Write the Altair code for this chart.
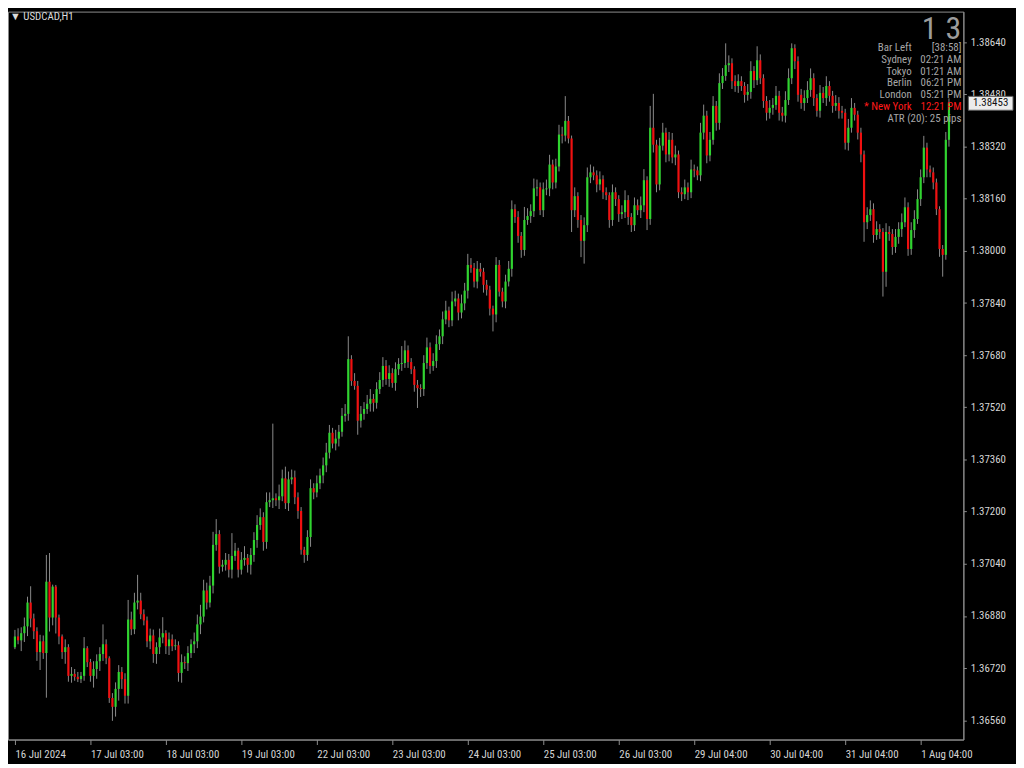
import json
import altair as alt
import pandas as pd

# ---------------- data ----------------
BASE = 1.36  # prices below are stored as pips above 1.36000
first_open_pips = 78.4
close_pips = [
    81.7, 80.5, 82.7, 84.8, 92.1, 87.2, 83.3, 76.9, 80.2, 76.6,
    98.5, 87.5, 97.0, 87.5, 81.7, 76.9, 78.4, 69.6, 70.2, 69.3,
    68.6, 69.6, 78.1, 73.8, 69.6, 71.7, 74.1, 76.3, 79.3, 75.0,
    62.8, 60.1, 65.6, 70.8, 68.6, 63.5, 86.9, 83.9, 92.1, 92.7,
    88.5, 86.6, 80.2, 82.0, 76.3, 78.4, 81.4, 82.7, 78.7, 80.8,
    78.7, 79.0, 70.5, 73.8, 73.5, 76.6, 79.3, 80.2, 85.4, 87.8,
    95.8, 92.1, 97.3, 109.8, 113.1, 103.1, 103.7, 105.2, 102.2, 106.4,
    108.0, 102.2, 105.2, 105.8, 103.7, 106.7, 111.3, 115.9, 118.3, 110.7,
    122.9, 123.5, 124.1, 123.5, 124.7, 130.2, 122.6, 129.9, 130.5, 124.4,
    120.2, 108.3, 106.7, 112.2, 127.2, 125.9, 128.7, 131.1, 134.2, 138.1,
    144.2, 140.9, 142.4, 144.5, 149.4, 150.0, 166.8, 160.1, 158.6, 147.9,
    150.0, 151.5, 153.1, 154.6, 153.4, 157.6, 160.4, 164.7, 160.7, 162.5,
    159.5, 163.7, 165.3, 165.6, 169.5, 165.9, 163.7, 158.9, 157.9, 157.6,
    165.6, 170.4, 164.7, 166.2, 171.4, 173.8, 179.0, 181.7, 178.7, 184.5,
    185.4, 181.1, 183.9, 187.8, 195.7, 194.8, 190.6, 194.5, 193.6, 189.6,
    188.1, 182.3, 180.5, 195.7, 187.5, 184.5, 190.6, 194.5, 212.8, 210.4,
    204.6, 200.3, 209.5, 210.7, 212.2, 219.2, 219.5, 212.5, 218.9, 219.2,
    226.5, 221.0, 225.9, 235.7, 235.4, 239.9, 234.5, 212.5, 216.8, 209.5,
    203.1, 207.9, 222.6, 224.1, 223.2, 220.4, 222.0, 218.0, 217.1, 209.5,
    218.0, 215.9, 211.3, 211.9, 215.6, 210.4, 207.9, 214.0, 212.5, 214.0,
    221.7, 209.8, 237.8, 232.6, 220.4, 232.3, 236.3, 229.6, 234.1, 228.7,
    229.6, 218.0, 217.4, 219.5, 218.0, 225.0, 224.7, 223.2, 236.3, 241.5,
    229.3, 234.1, 244.5, 239.3, 251.5, 253.7, 257.0, 257.6, 252.1, 250.6,
    252.1, 250.6, 247.9, 248.8, 255.2, 252.4, 258.5, 253.0, 246.0, 242.4,
    243.9, 244.8, 247.6, 242.4, 241.5, 246.3, 253.0, 262.2, 258.2, 247.9,
    245.4, 246.9, 249.4, 253.0, 246.9, 243.0, 248.5, 246.9, 250.6, 247.6,
    244.5, 245.4, 243.0, 242.4, 233.2, 237.8, 243.9, 241.8, 236.3, 229.6,
    208.8, 211.0, 212.8, 204.9, 206.7, 205.8, 193.6, 205.8, 205.2, 201.2,
    204.3, 206.7, 208.8, 213.4, 200.6, 206.4, 209.8, 215.9, 222.6, 231.7,
    225.0, 224.1, 221.0, 212.8, 200.6, 198.8, 234.1, 245.3,
]
upper_wick_pips = [
    2.0, 2.5, 1.8, 2.7, 1.8, 5.0, 1.5, 1.2, 2.0, 1.8,
    8.2, 8.8, 0.6, 0.5, 0.9, 0.6, 2.4, 0.9, 2.1, 1.5,
    1.5, 1.2, 3.4, 0.6, 1.0, 2.4, 2.1, 2.1, 6.1, 1.5,
    0.6, 1.5, 2.0, 2.1, 1.5, 1.8, 6.0, 2.4, 3.0, 7.9,
    2.4, 1.5, 1.2, 2.1, 1.8, 1.5, 2.7, 4.9, 0.9, 2.1,
    1.5, 1.8, 1.2, 2.4, 1.8, 2.1, 1.5, 2.7, 3.0, 3.6,
    3.3, 2.4, 3.0, 4.0, 4.6, 1.2, 1.5, 2.1, 1.8, 7.0,
    2.4, 0.9, 2.4, 3.6, 1.2, 2.1, 2.4, 3.0, 2.7, 1.5,
    3.0, 2.4, 22.9, 1.5, 3.6, 2.7, 3.6, 2.4, 2.4, 2.1,
    1.5, 1.2, 0.9, 2.1, 2.7, 1.5, 2.4, 2.1, 2.4, 3.0,
    2.4, 1.5, 2.7, 2.1, 2.4, 3.0, 7.0, 1.2, 2.4, 1.5,
    2.4, 2.1, 2.7, 3.0, 1.5, 2.1, 2.4, 2.7, 1.8, 2.4,
    1.5, 2.1, 1.8, 5.2, 3.0, 1.5, 1.2, 0.9, 1.5, 1.2,
    2.4, 3.0, 1.5, 2.4, 2.7, 2.1, 2.4, 3.0, 1.2, 3.0,
    2.4, 1.5, 2.7, 2.4, 3.4, 2.1, 1.5, 2.4, 1.8, 1.2,
    1.5, 1.2, 0.9, 2.4, 1.5, 1.2, 2.1, 2.4, 2.7, 1.5,
    1.8, 1.2, 4.0, 2.4, 2.1, 3.0, 2.4, 1.5, 2.1, 2.7,
    3.0, 1.5, 2.4, 3.0, 2.4, 7.6, 1.5, 0.9, 2.7, 1.2,
    1.5, 2.4, 3.0, 2.4, 1.8, 1.5, 2.4, 1.2, 1.5, 0.9,
    2.4, 1.5, 1.2, 2.1, 3.0, 1.5, 1.2, 2.4, 1.8, 2.7,
    3.4, 1.2, 6.7, 10.4, 1.5, 2.4, 3.0, 1.5, 2.4, 2.1,
    2.7, 1.2, 1.5, 2.4, 1.5, 3.0, 1.5, 1.2, 3.0, 3.4,
    1.5, 2.4, 3.0, 1.5, 3.0, 2.4, 6.7, 2.4, 1.5, 1.8,
    2.1, 1.5, 1.2, 2.4, 3.0, 1.5, 4.3, 1.8, 1.2, 1.5,
    2.4, 2.1, 3.0, 1.5, 1.8, 2.7, 3.0, 1.5, 1.2, 1.5,
    1.8, 2.4, 2.7, 3.0, 1.5, 1.2, 2.4, 1.8, 3.0, 1.5,
    1.5, 2.4, 1.8, 1.5, 1.2, 2.7, 3.0, 1.5, 1.2, 1.5,
    1.2, 2.4, 2.7, 1.8, 2.4, 1.5, 1.2, 2.7, 1.8, 1.5,
    2.4, 2.1, 2.7, 3.0, 1.5, 2.4, 2.7, 3.0, 2.4, 3.6,
    1.5, 1.2, 1.5, 1.2, 0.9, 1.2, 2.4, 1.5,
]
lower_wick_pips = [
    0.6, 1.2, 3.3, 2.7, 3.0, 2.7, 2.4, 2.7, 5.5, 1.8,
    13.7, 4.3, 2.4, 4.9, 2.4, 2.1, 3.6, 1.8, 2.1, 1.2,
    0.9, 1.2, 1.5, 1.5, 1.8, 3.6, 3.0, 3.0, 2.1, 1.8,
    1.5, 4.3, 3.0, 3.6, 3.0, 2.4, 2.4, 1.8, 1.5, 2.1,
    1.5, 1.5, 1.8, 2.4, 2.7, 3.0, 2.1, 1.8, 2.4, 2.7,
    1.5, 1.2, 2.7, 3.0, 1.8, 2.4, 1.5, 2.7, 2.1, 3.0,
    1.8, 2.1, 1.5, 2.4, 1.8, 2.1, 1.5, 1.8, 2.4, 2.7,
    1.5, 2.4, 1.5, 1.8, 2.4, 3.0, 2.1, 2.4, 1.5, 2.7,
    2.1, 1.5, 2.4, 1.8, 2.7, 1.5, 1.8, 2.4, 1.5, 2.1,
    2.4, 1.5, 2.4, 1.8, 3.0, 2.1, 1.5, 1.8, 2.4, 2.1,
    1.8, 1.5, 2.1, 2.4, 1.5, 1.8, 2.1, 1.5, 1.2, 4.3,
    2.1, 1.8, 1.5, 2.4, 2.7, 1.8, 1.5, 2.1, 1.8, 2.4,
    1.5, 2.4, 1.8, 2.1, 1.5, 1.8, 1.5, 2.1, 6.1, 2.4,
    2.1, 1.8, 2.4, 1.5, 2.1, 1.8, 2.4, 1.5, 2.1, 1.8,
    1.5, 2.4, 1.8, 2.1, 2.4, 1.5, 1.8, 2.1, 1.5, 2.4,
    1.8, 2.1, 5.2, 2.4, 1.5, 1.8, 2.1, 1.5, 2.4, 1.8,
    2.1, 2.4, 1.8, 1.5, 2.1, 1.8, 2.4, 1.5, 2.1, 1.8,
    2.4, 2.1, 1.8, 1.5, 2.4, 1.8, 1.5, 6.7, 2.1, 2.4,
    5.0, 7.0, 2.1, 1.8, 1.5, 2.4, 1.8, 2.1, 1.5, 2.4,
    1.8, 2.1, 2.4, 1.5, 1.8, 2.4, 2.1, 1.8, 1.5, 2.4,
    2.1, 3.4, 1.8, 2.4, 2.4, 1.8, 1.5, 2.4, 2.1, 1.8,
    2.4, 1.8, 2.1, 1.5, 2.4, 1.8, 2.1, 1.5, 1.8, 2.1,
    2.4, 1.8, 1.5, 2.4, 2.1, 1.8, 1.5, 2.1, 2.4, 1.8,
    2.1, 1.5, 2.4, 1.8, 2.1, 2.4, 1.5, 1.8, 2.1, 2.4,
    1.8, 2.1, 1.5, 2.4, 1.8, 2.1, 1.5, 1.8, 2.4, 2.1,
    1.8, 2.4, 1.5, 2.1, 2.4, 1.8, 2.1, 1.5, 2.4, 1.8,
    2.1, 1.5, 2.4, 1.8, 2.1, 2.4, 1.5, 1.8, 2.1, 2.4,
    6.0, 2.1, 1.8, 2.4, 1.5, 2.1, 7.6, 4.6, 2.1, 2.4,
    1.8, 2.1, 2.4, 1.5, 2.1, 1.8, 2.4, 1.5, 2.1, 1.8,
    2.4, 1.5, 2.1, 1.8, 2.4, 6.7, 1.5, 2.1,
]
x_tick_labels = [
    "16 Jul 2024", "17 Jul 03:00", "18 Jul 03:00", "19 Jul 03:00",
    "22 Jul 03:00", "23 Jul 03:00", "24 Jul 03:00", "25 Jul 03:00",
    "26 Jul 03:00", "29 Jul 04:00", "30 Jul 04:00", "31 Jul 04:00",
    "1 Aug 04:00",
]
bars_per_label = 24
y_tick_values = [1.36560, 1.36720, 1.36880, 1.37040, 1.37200, 1.37360, 1.37520,
                 1.37680, 1.37840, 1.38000, 1.38160, 1.38320, 1.38480, 1.38640]
current_price = 1.38453
symbol_title = "\u25bc USDCAD,H1"
big_counter = ["1", "3"]
info_labels = ["Bar Left", "Sydney", "Tokyo", "Berlin", "London", "* New York"]
info_values = ["[38:58]", "02:21 AM", "01:21 AM", "06:21 PM", "05:21 PM", "12:21 PM"]
info_highlight = [False, False, False, False, False, True]
atr_text = "ATR (20): 25 pips"

# ---------------- build table ----------------
open_pips = [first_open_pips] + close_pips[:-1]
rows = []
for i, (o, c) in enumerate(zip(open_pips, close_pips)):
    hi = max(o, c) + upper_wick_pips[i]
    lo = min(o, c) - lower_wick_pips[i]
    rows.append({
        "bar": i,
        "open": BASE + o / 1e4,
        "close": BASE + c / 1e4,
        "high": BASE + hi / 1e4,
        "low": BASE + lo / 1e4,
        "dir": "up" if c >= o else "down",
    })
df = pd.DataFrame(rows)

# ---------------- styling ----------------
W, H = 962, 733
FONT = "'Liberation Sans Narrow', 'Arial Narrow', 'Roboto Condensed', 'Liberation Sans', sans-serif"
AXIS_COL = "#8c8c8c"
LABEL_COL = "#d4d4d4"
PANEL_COL = "#a6a6a6"
GREEN = "#2fd42f"
RED = "#f01010"
WICK = "#8a8a8a"

x_scale = alt.Scale(domain=[-0.625, 300.0], nice=False, zero=False)
y_scale = alt.Scale(domain=[1.365006, 1.387344], nice=False, zero=False)

x_axis = alt.Axis(
    values=list(range(0, bars_per_label * len(x_tick_labels), bars_per_label)),
    labelExpr=f"{json.dumps(x_tick_labels)}[round(datum.value/{bars_per_label})]",
    labelAlign="left", labelFlush=False, labelBound=False, labelOverlap=False,
    labelColor=LABEL_COL, labelFont=FONT, labelFontSize=11, labelPadding=4,
    tickColor=AXIS_COL, tickSize=5, domainColor=AXIS_COL, grid=False, title=None,
)
y_axis = alt.Axis(
    orient="right", values=y_tick_values, format=".5f",
    labelColor=LABEL_COL, labelFont=FONT, labelFontSize=11, labelPadding=4,
    tickColor=AXIS_COL, tickSize=3, domainColor=AXIS_COL, grid=False, title=None,
    zindex=0,
)

X = alt.X("bar:Q", scale=x_scale, axis=x_axis, title=None)

wicks = alt.Chart(df).mark_rule(color=WICK, strokeWidth=1).encode(
    x=X,
    y=alt.Y("low:Q", scale=y_scale, axis=y_axis, title=None),
    y2="high:Q",
)
bodies = alt.Chart(df).mark_bar(size=2.2).encode(
    x=X,
    y=alt.Y("open:Q", scale=y_scale, axis=y_axis, title=None),
    y2="close:Q",
    color=alt.Color("dir:N", scale=alt.Scale(domain=["up", "down"], range=[GREEN, RED]),
                    legend=None),
)

box_df = pd.DataFrame({"p": [current_price], "label": [f"{current_price:.5f}"]})
half_box = 7 * (1.387344 - 1.365006) / H
price_box = alt.Chart(box_df).transform_calculate(
    top=f"datum.p + {half_box}", bot=f"datum.p - {half_box}"
).mark_rect(fill="#ececec", stroke="#5a5a5a", strokeWidth=1).encode(
    x=alt.value(W + 5), x2=alt.value(W + 50),
    y=alt.Y("top:Q", scale=y_scale, axis=y_axis, title=None), y2="bot:Q",
)
price_text = alt.Chart(box_df).mark_text(
    font=FONT, fontSize=11, color="#111111", align="center", baseline="middle"
).encode(
    x=alt.value(W + 27.5),
    y=alt.Y("p:Q", scale=y_scale, axis=y_axis, title=None),
    text="label:N",
)


def label(text, x, y, size=11, color=PANEL_COL, align="right"):
    return alt.Chart(pd.DataFrame({"t": [text]})).mark_text(
        font=FONT, fontSize=size, color=color, align=align, baseline="alphabetic"
    ).encode(x=alt.value(x), y=alt.value(y), text="t:N")


texts = [label(symbol_title, 2, 8, size=11, color="#dcdcdc", align="left")]
for j, ch in enumerate(big_counter):
    texts.append(label(ch, 928 + 24 * j, 28, size=32, color="#9c9c9c", align="center"))
for k, (lab, val, hl) in enumerate(zip(info_labels, info_values, info_highlight)):
    col = "#ff1a1a" if hl else PANEL_COL
    yk = 40 + 11.8 * k
    texts.append(label(lab, 910, yk, color=col))
    texts.append(label(val, 960, yk, color=col))
texts.append(label(atr_text, 960, 40 + 11.8 * 6))

chart = alt.layer(wicks, bodies, price_box, price_text, *texts).properties(
    width=W, height=H, background="#000000",
    padding={"left": 0, "top": 0, "right": 2, "bottom": 2},
).configure_view(stroke=AXIS_COL, strokeWidth=1)

chart.save("out.html", embed_options={"renderer": "svg", "actions": False})
